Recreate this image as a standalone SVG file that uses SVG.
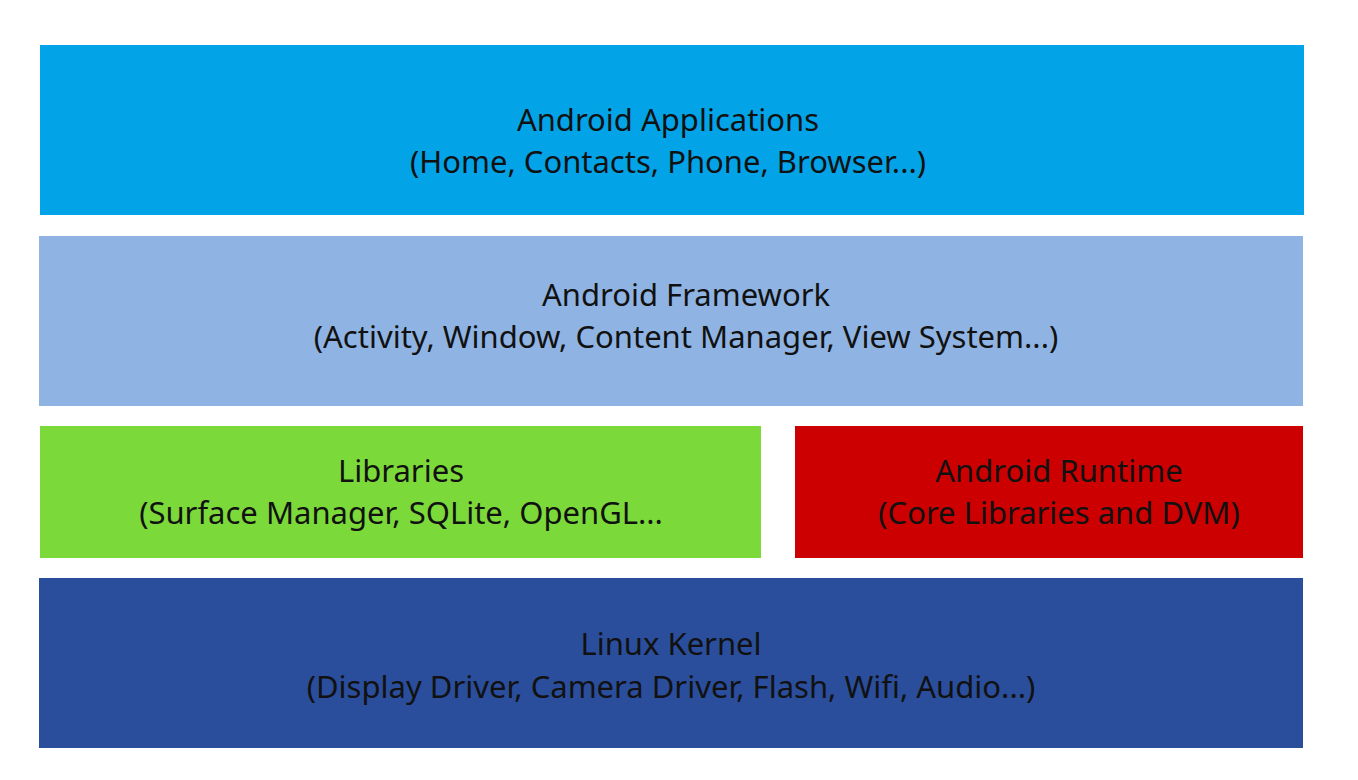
<svg xmlns="http://www.w3.org/2000/svg" width="1358" height="780" viewBox="0 0 1358 780">
<style>
text{font-family:"Noto Sans","Liberation Sans",sans-serif;font-size:31px;fill:#111;text-anchor:middle}
</style>
<rect width="1358" height="780" fill="#fff"/>
<g id="apps"><rect x="40" y="45" width="1264" height="170" fill="#03A3E8"/>
<text x="668" y="131">Android Applications</text><text x="668" y="173">(Home, Contacts, Phone, Browser...)</text></g>
<g id="framework"><rect x="39" y="236" width="1264" height="170" fill="#8FB4E3"/>
<text x="686" y="306">Android Framework</text><text x="686" y="348">(Activity, Window, Content Manager, View System...)</text></g>
<g id="libraries"><rect x="40" y="426" width="721" height="132" fill="#7CD93A"/>
<text x="401" y="482">Libraries</text><text x="401" y="524">(Surface Manager, SQLite, OpenGL...</text></g>
<g id="runtime"><rect x="795" y="426" width="508" height="132" fill="#CC0000"/>
<text x="1059" y="482">Android Runtime</text><text x="1059" y="524">(Core Libraries and DVM)</text></g>
<g id="kernel"><rect x="39" y="578" width="1264" height="170" fill="#2A4E9B"/>
<text x="671" y="655">Linux Kernel</text><text x="671" y="698">(Display Driver, Camera Driver, Flash, Wifi, Audio...)</text></g>
<g id="connectors"/>
</svg>
